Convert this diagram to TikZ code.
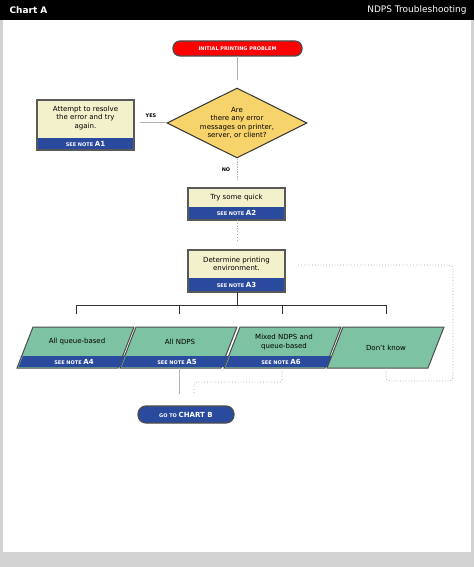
\documentclass[tikz,border=0pt]{standalone}
\usepackage{fontspec}
\setmainfont{DejaVu Sans}
\usetikzlibrary{shapes.geometric,arrows.meta}
\definecolor{band}{HTML}{2A4A9E}
\definecolor{cream}{HTML}{F3F0CC}
\definecolor{teal}{HTML}{7DC2A2}
\definecolor{diam}{HTML}{F7D36B}
\begin{document}
\begin{tikzpicture}[x=1pt,y=-1pt,
  box/.style={draw=gray!70!black,line width=1.2pt,fill=cream},
  bandf/.style={fill=band},
  bt/.style={font=\fontsize{7}{8.5}\selectfont,align=center},
  note/.style={font=\bfseries\fontsize{5}{6}\selectfont,text=white},
  ln/.style={gray!60,line width=1pt},
  dl/.style={gray!70,line width=0.8pt,dotted},
  tip/.style={-{Triangle[black,length=4pt,width=6pt]}},
  pill/.style={rounded corners=7pt,draw=black!70,line width=1.2pt}]
\useasboundingbox (0,0) rectangle (474,567);
\fill[gray!35] (0,0) rectangle (474,567);
\fill[white] (3,20) rectangle (471,552);
\fill[black] (0,0) rectangle (474,20);
\node[anchor=west,text=white,font=\bfseries\fontsize{9}{10}\selectfont] (ca) at (6,10) {Chart A};
\node[anchor=east,text=white,font=\fontsize{9}{10}\selectfont] (nt) at (470,10) {NDPS Troubleshooting};
% start
\draw[pill,fill=red] (173,41) rectangle (302,56);
\node[text=white,font=\bfseries\fontsize{5}{6}\selectfont] (start) at (237.5,48.5) {INITIAL PRINTING PROBLEM};
% diamond
\node[diamond,draw=black!80,line width=1pt,fill=diam,minimum width=140pt,minimum height=70pt,inner sep=0pt] (d) at (237,123) {};
\node[bt] (dt) at (237,123) {Are\\there any error\\messages on printer,\\server, or client?};
% A1
\draw[box] (37,100) rectangle (134,150);
\fill[bandf] (38,138) rectangle (133,149);
\node[bt] (a1) at (85.5,118) {Attempt to resolve\\the error and try\\again.};
\node[note] (n1) at (85.5,143.5) {SEE NOTE \fontsize{7}{8}\selectfont A1};
% A2
\draw[box] (188,188) rectangle (285,220);
\fill[bandf] (189,207) rectangle (284,219);
\node[bt] (a2) at (236.5,198) {Try some quick};
\node[note] (n2) at (236.5,212.5) {SEE NOTE \fontsize{7}{8}\selectfont A2};
% A3
\draw[box] (188,250) rectangle (285,292);
\fill[bandf] (189,278) rectangle (284,291);
\node[bt] (a3) at (236.5,264) {Determine printing\\environment.};
\node[note] (n3) at (236.5,284.5) {SEE NOTE \fontsize{7}{8}\selectfont A3};
% parallelograms
\foreach \x/\n/\t/\b in {17/p4/All queue-based/A4,120/p5/All NDPS/A5,224/p6/{Mixed NDPS and\\queue-based}/A6}{
  \draw[line width=1pt,draw=black!70,fill=teal] (\x+16,327) -- (\x+117,327) -- (\x+101,368) -- (\x,368) -- cycle;
  \fill[bandf] (\x+1.5,356) -- (\x+110.5,356) -- (\x+105.7,367) -- (\x+1.5,367) -- (\x+6,356) -- cycle;
  \node[bt] (\n) at (\x+60,342) {\t};
  \node[note] (\n n) at (\x+57,361.5) {SEE NOTE \fontsize{7}{8}\selectfont \b};
}
\draw[line width=1pt,draw=black!70,fill=teal] (343,327) -- (444,327) -- (428,368) -- (327,368) -- cycle;
\node[bt] (p7) at (386,348) {Don't know};
% end pill
\draw[pill,rounded corners=8pt,fill=band] (138,406) rectangle (234,423);
\node[text=white,font=\bfseries\fontsize{5}{6}\selectfont] (endb) at (186,414.5) {GO TO \fontsize{7}{8}\selectfont CHART B};
% connectors
\coordinate (s1) at (237,56); \coordinate (e1) at (237,86);
\draw[ln] (s1) -- (237,80); \draw[tip,draw=none] (237,79) -- (e1);
\draw[ln] (d.west) -- (140,123); \draw[tip,draw=none] (141,123) -- (135,123);
\node[font=\bfseries\fontsize{5}{6}\selectfont] (yes) at (151,116) {YES};
\draw[ln,dashed,dash pattern=on 1.5pt off 1pt] (d.south) -- (237,180);
\draw[tip,draw=none] (237,179) -- (237,186);
\node[font=\bfseries\fontsize{5}{6}\selectfont] (no) at (226,170) {NO};
\draw[dl] (237,220) -- (237,241); \draw[tip,draw=none] (237,240) -- (237,247);
\draw[black!80,line width=0.8pt] (237,292) -- (237,305);
\draw[black!80,line width=0.8pt] (76,305) -- (386,305);
\foreach \x in {76,179,282,386}{\draw[black!80,line width=0.8pt] (\x,305) -- (\x,314); \draw[tip,draw=none] (\x,313) -- (\x,319);}
\draw[ln] (179,368) -- (179,394); \draw[tip,draw=none] (179,393) -- (179,400);
\draw[dl,rounded corners=3pt] (282,368) -- (282,382) -- (194,382) -- (194,394); \draw[tip,draw=none] (194,393) -- (194,400);
\draw[dl,rounded corners=4pt] (386,368) -- (386,381) -- (453,381) -- (453,265) -- (296,265);
\draw[tip,draw=none] (296,265) -- (290,265);
\end{tikzpicture}
\end{document}
